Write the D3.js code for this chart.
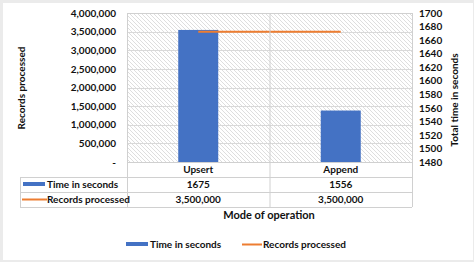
<!DOCTYPE html>
<html>
<head>
<meta charset="utf-8">
<script src="https://cdn.jsdelivr.net/npm/d3@7"></script>
<style>
  body { margin: 0; background: #ebebeb; }
  svg { display: block; font-family: Lato, "Open Sans", sans-serif; font-weight: bold; }
</style>
</head>
<body>
<svg id="chart"></svg>
<script>
var width = 474, height = 262;

// data
var categories = ['Upsert', 'Append'];
var timeSeconds = [1675, 1556];
var recordsProcessed = [3500000, 3500000];
var leftTicks = [0, 500000, 1000000, 1500000, 2000000, 2500000, 3000000, 3500000, 4000000];
var rightTicks = [1480, 1500, 1520, 1540, 1560, 1580, 1600, 1620, 1640, 1660, 1680, 1700];

var blue = '#4472c4', orange = '#ed7d31', grid = '#d9d9d9';

var svg = d3.select('#chart').attr('width', width).attr('height', height);

svg.append('rect').attr('x', 3).attr('y', 3).attr('width', 470).attr('height', 257).attr('fill', 'white');

// hatch pattern for plot background
var pat = svg.append('defs').append('pattern')
    .attr('id', 'hatch')
    .attr('patternUnits', 'userSpaceOnUse')
    .attr('width', 4).attr('height', 4);
pat.append('path')
    .attr('d', 'M-1,-1 L5,5 M-1,3 L1,5 M3,-1 L5,1')
    .attr('stroke', '#d6d6d6').attr('stroke-width', 0.8);

var plot = { left: 127, right: 412, top: 13, bottom: 162 };

var x = d3.scaleBand().domain(categories).range([plot.left, plot.right]);
var yLeft = d3.scaleLinear().domain([0, 4000000]).range([plot.bottom, plot.top]);
var yRight = d3.scaleLinear().domain([1480, 1700]).range([plot.bottom, plot.top]);

svg.append('rect')
    .attr('x', plot.left).attr('y', plot.top)
    .attr('width', plot.right - plot.left).attr('height', plot.bottom - plot.top)
    .attr('fill', 'url(#hatch)');

// gridlines
svg.append('g').selectAll('line').data(leftTicks).join('line')
    .attr('x1', plot.left).attr('x2', plot.right)
    .attr('y1', d => Math.round(yLeft(d)) + 0.5).attr('y2', d => Math.round(yLeft(d)) + 0.5)
    .attr('stroke', grid);

// bars
var barW = 40;
svg.append('g').selectAll('rect').data(timeSeconds).join('rect')
    .attr('x', (d, i) => x(categories[i]) + x.bandwidth() / 2 - barW / 2)
    .attr('width', barW)
    .attr('y', d => yRight(d))
    .attr('height', d => plot.bottom - yRight(d))
    .attr('fill', blue);

// line
var line = d3.line()
    .x((d, i) => x(categories[i]) + x.bandwidth() / 2)
    .y(d => yLeft(d));
svg.append('path').datum(recordsProcessed)
    .attr('d', line)
    .attr('fill', 'none').attr('stroke', orange).attr('stroke-width', 2);

// left axis
var fmt = d => d === 0 ? '-' : d3.format(',')(d);
var gl = svg.append('g')
    .attr('transform', 'translate(120,0)')
    .call(d3.axisLeft(yLeft).tickValues(leftTicks).tickFormat(fmt).tickSize(0).tickPadding(4));
gl.select('.domain').remove();
gl.selectAll('text').attr('font-size', 10).attr('font-family', 'Lato, sans-serif').attr('font-weight', 'bold').attr('fill', '#111');

// right axis
var gr = svg.append('g')
    .attr('transform', 'translate(415,0)')
    .call(d3.axisRight(yRight).tickValues(rightTicks).tickSize(0).tickPadding(4).tickFormat(d3.format('d')));
gr.select('.domain').remove();
gr.selectAll('text').attr('font-size', 10).attr('font-family', 'Lato, sans-serif').attr('font-weight', 'bold').attr('fill', '#111');

// axis titles
svg.append('text')
    .attr('transform', 'translate(25,' + 88 + ') rotate(-90)')
    .attr('text-anchor', 'middle').attr('font-size', 10).attr('fill', '#111')
    .text('Records processed');
svg.append('text')
    .attr('transform', 'translate(458,' + 100 + ') rotate(-90)')
    .attr('text-anchor', 'middle').attr('font-size', 10).attr('fill', '#111')
    .text('Total time in seconds');

// data table
var tableLeft = 20, rowTop = [162, 177, 192, 207];
var tbl = svg.append('g').attr('stroke', '#d0d0d0').attr('fill', 'none');
// plot border
tbl.append('line').attr('x1', plot.left).attr('x2', plot.right).attr('y1', plot.top + 0.5).attr('y2', plot.top + 0.5);
tbl.append('line').attr('x1', plot.right + 0.5).attr('x2', plot.right + 0.5).attr('y1', plot.top).attr('y2', rowTop[3]);
tbl.append('line').attr('x1', plot.left + 0.5).attr('x2', plot.left + 0.5).attr('y1', plot.top).attr('y2', rowTop[3]);
tbl.append('line').attr('x1', x('Append') + 0.5).attr('x2', x('Append') + 0.5).attr('y1', plot.top).attr('y2', rowTop[3]);
tbl.append('line').attr('x1', plot.left).attr('x2', plot.right).attr('y1', rowTop[0] + 0.5).attr('y2', rowTop[0] + 0.5);
[1, 2, 3].forEach(function (r) {
  tbl.append('line').attr('x1', tableLeft).attr('x2', plot.right).attr('y1', rowTop[r] + 0.5).attr('y2', rowTop[r] + 0.5);
});
tbl.append('line').attr('x1', tableLeft + 0.5).attr('x2', tableLeft + 0.5).attr('y1', rowTop[1]).attr('y2', rowTop[3]);

var txt = svg.append('g').attr('font-size', 10).attr('fill', '#111').attr('text-anchor', 'middle');
categories.forEach(function (c, i) {
  var cx = x(c) + x.bandwidth() / 2;
  txt.append('text').attr('x', cx).attr('y', 173).text(c);
  txt.append('text').attr('x', cx).attr('y', 188).text(timeSeconds[i]);
  txt.append('text').attr('x', cx).attr('y', 203).text(d3.format(',')(recordsProcessed[i]));
});

svg.append('rect').attr('x', 23).attr('y', 182).attr('width', 22).attr('height', 4).attr('fill', blue);
svg.append('text').attr('x', 47).attr('y', 188).attr('font-size', 10).attr('fill', '#111').text('Time in seconds');
svg.append('line').attr('x1', 22).attr('x2', 47).attr('y1', 199.5).attr('y2', 199.5).attr('stroke', orange).attr('stroke-width', 2);
svg.append('text').attr('x', 47).attr('y', 203).attr('font-size', 10).attr('fill', '#111').text('Records processed');

svg.append('text').attr('x', 269).attr('y', 219).attr('text-anchor', 'middle')
    .attr('font-size', 11).attr('fill', '#111').text('Mode of operation');

// legend
svg.append('rect').attr('x', 126).attr('y', 242).attr('width', 22).attr('height', 4).attr('fill', blue);
svg.append('text').attr('x', 150).attr('y', 248).attr('font-size', 10).attr('fill', '#111').text('Time in seconds');
svg.append('line').attr('x1', 242).attr('x2', 262).attr('y1', 244.5).attr('y2', 244.5).attr('stroke', orange).attr('stroke-width', 2);
svg.append('text').attr('x', 263).attr('y', 248).attr('font-size', 10).attr('fill', '#111').text('Records processed');
</script>
</body>
</html>
